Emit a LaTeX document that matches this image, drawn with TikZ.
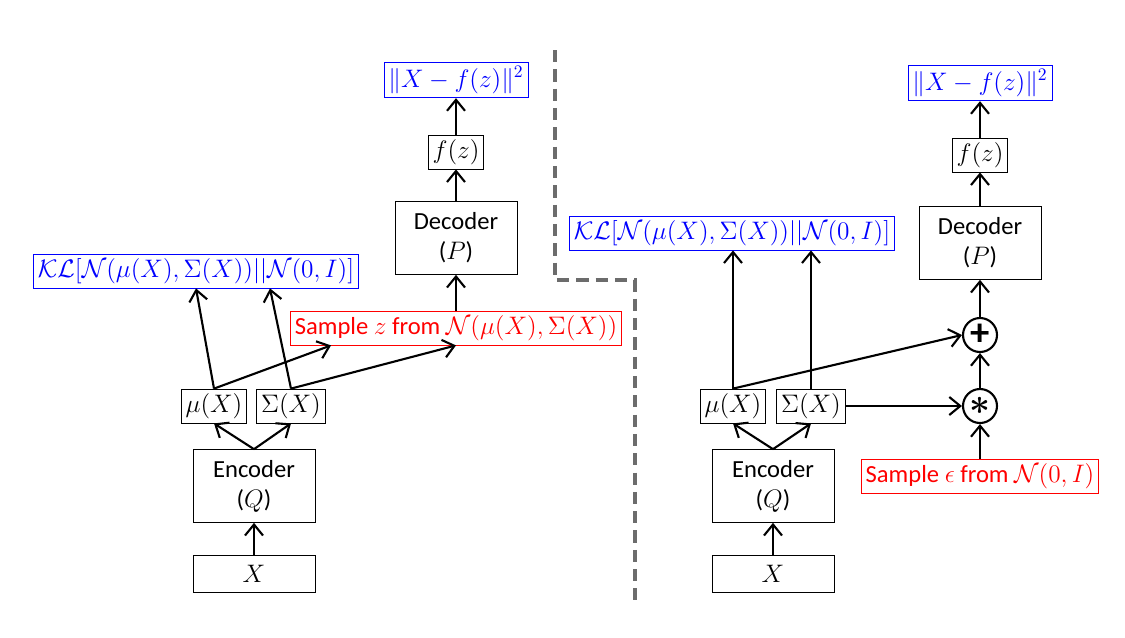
\documentclass[tikz,border=0pt]{standalone}
\usepackage{amsmath,amssymb}
\usepackage{fontspec}
\setmainfont{Carlito}
\usetikzlibrary{arrows.meta,positioning}

\begin{document}
\begin{tikzpicture}[
  x=0.02cm, y=-0.02cm,
  font=\fontsize{14}{17}\selectfont,
  block/.style={draw, minimum width=24.4mm, minimum height=14.6mm, align=center},
  small/.style={draw, inner sep=2.5pt},
  wide/.style={draw, minimum width=24.4mm, minimum height=7.4mm},
  loss/.style={draw=blue, text=blue, inner sep=2.5pt},
  samp/.style={draw=red, text=red, inner sep=2.5pt},
  op/.style={draw, circle, very thick, minimum size=6.8mm, inner sep=0pt, font=\fontsize{22}{22}\selectfont\bfseries},
  line/.style={-{Straight Barb[length=2.2mm,width=3.6mm]}, very thick}
]
\useasboundingbox (0,0) rectangle (1125,637);

% Left: without reparameterization
\node[wide] (xl) at (254,574) {$X$};
\node[block] (encl) at (254,486) {Encoder\\($Q$)};
\node[small] (mul) at (214,406) {$\mu(X)$};
\node[small] (sigl) at (291,406) {$\Sigma(X)$};
\node[loss] (kll) at (196,271) {$\mathcal{KL}[\mathcal{N}(\mu(X),\Sigma(X))||\mathcal{N}(0,I)]$};
\node[samp] (sampz) at (456,328) {Sample $z$ from $\mathcal{N}(\mu(X),\Sigma(X))$};
\node[block] (decl) at (456,238) {Decoder\\($P$)};
\node[small] (fzl) at (456,152) {$f(z)$};
\node[loss] (lossl) at (456,80) {$\|X-f(z)\|^2$};

\draw[line] (xl) -- (encl);
\draw[line] (encl.north) -- (mul.south);
\draw[line] (encl.north) -- (sigl.south);
\draw[line] (mul.north) -- (kll.south);
\draw[line] (sigl.north) -- ([xshift=14.8mm]kll.south);
\draw[line] (mul.north) -- ([xshift=-25mm]sampz.south);
\draw[line] (sigl.north) -- (sampz.south);
\draw[line] (sampz) -- (decl);
\draw[line] (decl) -- (fzl);
\draw[line] (fzl) -- (lossl);

% Divider
\draw[gray!85!black, line width=2pt, dash pattern=on 7pt off 4pt] (555,50) -- (555,280) -- (635,280) -- (635,600);

% Right: with reparameterization
\node[wide] (xr) at (773,574) {$X$};
\node[block] (encr) at (773,486) {Encoder\\($Q$)};
\node[small] (mur) at (733,406) {$\mu(X)$};
\node[small] (sigr) at (811,406) {$\Sigma(X)$};
\node[loss] (klr) at (732,233) {$\mathcal{KL}[\mathcal{N}(\mu(X),\Sigma(X))||\mathcal{N}(0,I)]$};
\node[samp] (sampe) at (980,476) {Sample $\epsilon$ from $\mathcal{N}(0,I)$};
\node[op] (star) at (980,406) {$\boldsymbol{\ast}$};
\node[op] (plus) at (980,335) {+};
\node[block] (decr) at (980,243) {Decoder\\($P$)};
\node[small] (fzr) at (980,155) {$f(z)$};
\node[loss] (lossr) at (980,83) {$\|X-f(z)\|^2$};

\draw[line] (xr) -- (encr);
\draw[line] (encr.north) -- (mur.south);
\draw[line] (encr.north) -- (sigr.south);
\draw[line] (mur.north) -- (mur.north |- klr.south);
\draw[line] (sigr.north) -- (sigr.north |- klr.south);
\draw[line] (mur.north) -- (plus.west);
\draw[line] (sigr.east) -- (star.west);
\draw[line] (sampe) -- (star);
\draw[line] (star) -- (plus);
\draw[line] (plus) -- (decr);
\draw[line] (decr) -- (fzr);
\draw[line] (fzr) -- (lossr);
\end{tikzpicture}
\end{document}
